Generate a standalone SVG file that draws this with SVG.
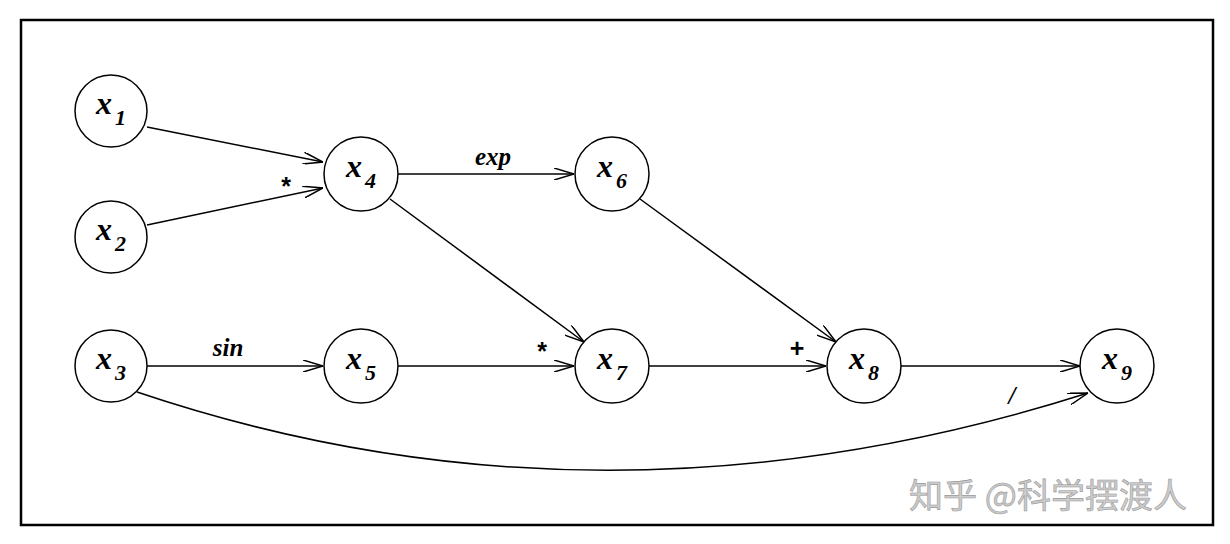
<svg xmlns="http://www.w3.org/2000/svg" width="1230" height="544" viewBox="0 0 1230 544">
<style>
.n{fill:#fff;stroke:#000;stroke-width:1.5}
.t{font-family:"Liberation Serif",serif;font-weight:bold;font-style:italic;font-size:32px;text-anchor:middle}
.s{font-size:22px}
.e{fill:none;stroke:#000;stroke-width:1.5;marker-end:url(#a)}
.l{font-family:"Liberation Serif",serif;font-weight:bold;font-style:italic;font-size:25px;text-anchor:middle}
.p{font-family:"Liberation Sans",sans-serif;font-weight:bold;font-size:25px;text-anchor:middle}
</style>
<defs><marker id="a" viewBox="0 0 20 12" refX="20" refY="6" markerWidth="20" markerHeight="12" markerUnits="userSpaceOnUse" orient="auto"><path d="M0,0L20,6L0,12" fill="none" stroke="#000" stroke-width="1.5"/></marker></defs>
<rect x="0" y="0" width="1230" height="544" fill="#fff"/>
<rect x="21" y="20" width="1192" height="505" fill="none" stroke="#000" stroke-width="2.5"/>
<g id="connectors">
<path class="e" d="M147,127L323,162"/>
<path class="e" d="M147,225L323,188"/>
<path class="e" d="M398,174L574,174"/>
<path class="e" d="M147,366L323,366"/>
<path class="e" d="M390,199L584,342"/>
<path class="e" d="M398,366L574,366"/>
<path class="e" d="M640,199L836,342"/>
<path class="e" d="M649,366L826,366"/>
<path class="e" d="M901,366L1080,366"/>
<path class="e" d="M137,392Q600,548 1088,393"/>
<text class="p" x="286" y="195">*</text>
<text class="l" x="493" y="165">exp</text>
<text class="l" x="228" y="356">sin</text>
<text class="p" x="542" y="360">*</text>
<text class="p" x="797" y="357">+</text>
<text class="l" x="1012" y="404" font-size="30">/</text>
</g>
<g id="x1"><circle class="n" cx="111" cy="111" r="36"/><text class="t" x="111" y="114">x<tspan class="s" dx="3" dy="11">1</tspan></text></g>
<g id="x2"><circle class="n" cx="111" cy="237" r="36"/><text class="t" x="111" y="240">x<tspan class="s" dx="3" dy="11">2</tspan></text></g>
<g id="x3"><circle class="n" cx="111" cy="366" r="36"/><text class="t" x="111" y="369">x<tspan class="s" dx="3" dy="11">3</tspan></text></g>
<g id="x4"><circle class="n" cx="361" cy="174" r="37"/><text class="t" x="361" y="177">x<tspan class="s" dx="3" dy="11">4</tspan></text></g>
<g id="x5"><circle class="n" cx="361" cy="366" r="37"/><text class="t" x="361" y="369">x<tspan class="s" dx="3" dy="11">5</tspan></text></g>
<g id="x6"><circle class="n" cx="612" cy="174" r="37"/><text class="t" x="612" y="177">x<tspan class="s" dx="3" dy="11">6</tspan></text></g>
<g id="x7"><circle class="n" cx="612" cy="366" r="37"/><text class="t" x="612" y="369">x<tspan class="s" dx="3" dy="11">7</tspan></text></g>
<g id="x8"><circle class="n" cx="864" cy="366" r="37"/><text class="t" x="864" y="369">x<tspan class="s" dx="3" dy="11">8</tspan></text></g>
<g id="x9"><circle class="n" cx="1117" cy="366" r="37"/><text class="t" x="1117" y="369">x<tspan class="s" dx="3" dy="11">9</tspan></text></g>
<text x="1048" y="508" font-family="'Noto Sans CJK SC',sans-serif" font-size="34" fill="#ccc" stroke="#999" stroke-width="0.6" text-anchor="middle">知乎 @科学摆渡人</text>
</svg>
